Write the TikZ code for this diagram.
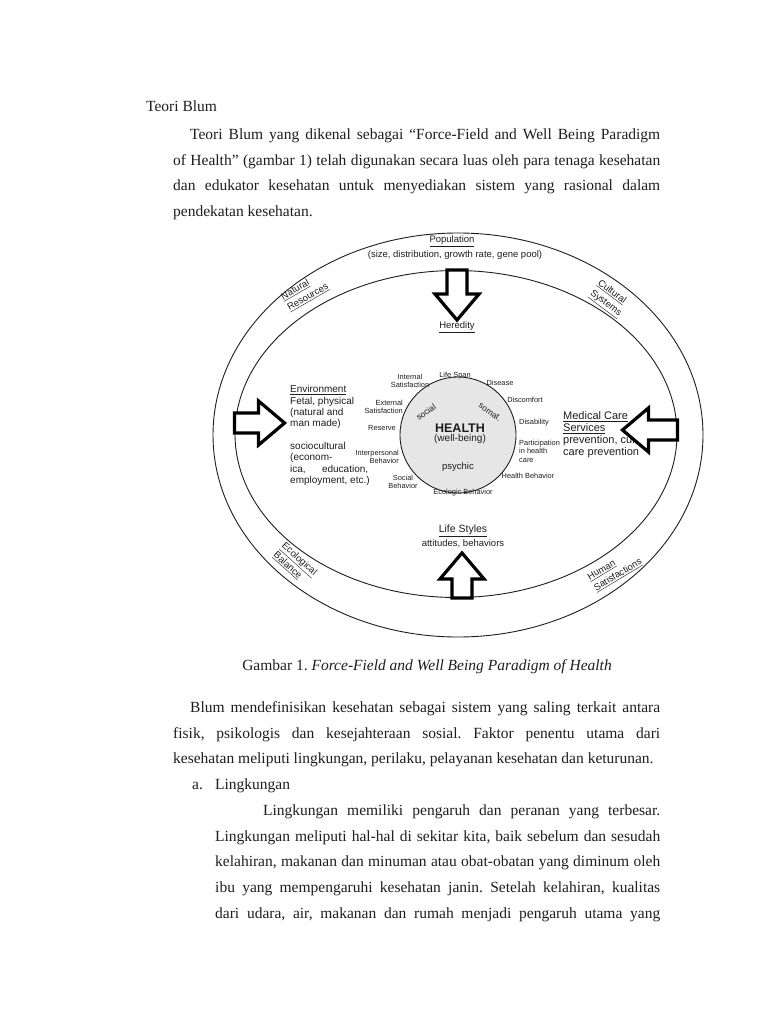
\documentclass[tikz,border=0pt]{standalone}
\usepackage{fontspec}
\setmainfont{Liberation Serif}
\setsansfont{Liberation Sans}
\usetikzlibrary{positioning,calc,shapes.geometric}
\definecolor{ink}{HTML}{1E1E1E}
\definecolor{healthgray}{HTML}{E6E6E6}
\frenchspacing
\newcommand{\bd}{\fontsize{15.5pt}{25.7pt}\selectfont}
\newcommand{\jl}[2]{\makebox[#1][s]{#2}}
\newcommand{\uln}[1]{\underline{#1}}
\tikzset{
  body/.style={font=\bd, text=ink, inner sep=0pt, align=left},
  lab/.style={font=\sffamily\fontsize{9.5pt}{11pt}\selectfont, text=ink, inner sep=0pt, align=center},
  side/.style={font=\sffamily\fontsize{10pt}{11.3pt}\selectfont, text=ink, inner sep=0pt, align=left},
  mini/.style={font=\sffamily\fontsize{7.4pt}{8.4pt}\selectfont, text=ink, inner sep=0pt, align=center},
  band/.style={font=\sffamily\fontsize{9.5pt}{12.5pt}\selectfont, text=ink, inner sep=0pt, align=left},
  ring/.style={ellipse, draw=ink, line width=0.9pt, inner sep=0pt},
  fatline/.style={draw=black, line width=3.2pt, fill=white, line join=miter},
  pics/fatarrow/.style={code={
    \path[fatline] (0,-10) -- (#1-26,-10) -- (#1-26,-22) -- (#1,0)
      -- (#1-26,22) -- (#1-26,10) -- (0,10) -- cycle;
  }},
}
\begin{document}
\begin{tikzpicture}[x=1pt, y=-1pt]
  \useasboundingbox[fill=white] (0,0) rectangle (768,1024);

  % page text above the figure
  \node[body, anchor=base west] (head) at (146,112) {Teori Blum};
  \node[body, anchor=north west] (para1) at (173,128.4)
    {\hspace*{17pt}\jl{470pt}{Teori Blum yang dikenal sebagai “Force-Field and Well Being Paradigm}\\
     \jl{487pt}{of Health” (gambar 1) telah digunakan secara luas oleh para tenaga kesehatan}\\
     \jl{487pt}{dan edukator kesehatan untuk menyediakan sistem yang rasional dalam}\\
     pendekatan kesehatan.};

  % the two rings and the health circle
  \node[ring, minimum width=490, minimum height=404] (outer) at (458,435) {};
  \node[ring, minimum width=442, minimum height=327] (inner) at (456,434) {};
  \node[circle, draw=ink, line width=0.9pt, fill=healthgray, minimum size=116] (health) at (458,435) {};
  \node[font=\sffamily\bfseries\fontsize{12.5pt}{14pt}\selectfont, text=ink, inner sep=0pt] (hl) at (460,428) {HEALTH};
  \node[lab, font=\sffamily\fontsize{10pt}{11pt}\selectfont, below=2pt of hl] (wb) {(well-being)};
  \node[mini, font=\sffamily\fontsize{8.5pt}{9pt}\selectfont, rotate=35] (soc) at (426,412) {social};
  \node[mini, font=\sffamily\fontsize{8.5pt}{9pt}\selectfont, rotate=-35] (som) at (490,412) {somat.};
  \node[lab] (psy) at (458,467) {psychic};

  % labels round the circle
  \node[mini] (intsat) at (410,381) {Internal\\Satisfaction};
  \node[mini] (life) at (455,376) {Life Span};
  \node[mini] (dis) at (500,383) {Disease};
  \node[mini] (disc) at (525,400) {Discomfort};
  \node[mini, align=right, anchor=east] (extsat) at (403,407) {External\\Satisfaction};
  \node[mini] (res) at (382,428) {Reserve};
  \node[mini] (disab) at (534,423) {Disability};
  \node[mini, align=left, anchor=west] (part) at (519,451) {Participation\\in health\\care};
  \node[mini, align=right, anchor=east] (inter) at (399,457) {Interpersonal\\Behavior};
  \node[mini] (hbeh) at (528,476) {Health Behavior};
  \node[mini] (sbeh) at (403,482) {Social\\Behavior};
  \node[mini] (ebeh) at (463,493) {Ecologic Behavior};

  % the four forces
  \node[lab] (pop) at (452,241) {\uln{Population}};
  \node[lab] (popd) at (455,255) {(size, distribution, growth rate, gene pool)};
  \node[lab] (her) at (457,327) {\uln{Heredity}};
  \node[side, anchor=north west] (env) at (290,385.5)
    {\uln{Environment}\\Fetal, physical\\(natural and\\man made)\\[11.3pt]
     sociocultural\\(econom-\\\jl{78pt}{ica, education,}\\employment, etc.)};
  \node[side, font=\sffamily\fontsize{11pt}{12pt}\selectfont, anchor=north west] (med) at (563,411.5)
    {\uln{Medical Care}\\\uln{Services}\\prevention, cure,\\care prevention};
  \node[lab, font=\sffamily\fontsize{10.5pt}{12pt}\selectfont] (ls) at (463,531) {\uln{Life Styles}};
  \node[lab] (lsd) at (463,544) {attitudes, behaviors};

  \pic[rotate=-90] at ([xshift=1pt]inner.north) {fatarrow=50};
  \pic[rotate=90] at ([xshift=6pt]inner.south) {fatarrow=45};
  \pic at ([yshift=11pt]inner.west) {fatarrow=50};
  \pic[rotate=180] at ([yshift=4pt]inner.east) {fatarrow=55};

  % labels in the band
  \node[band, rotate=30] (nat) at (305,292) {\uln{Natural}\\\uln{Resources}};
  \node[band, rotate=-37] (cul) at (609,299) {\uln{Cultural}\\\uln{Systems}};
  \node[band, rotate=-42] (eco) at (295,564) {\uln{Ecological}\\\uln{Balance}};
  \node[band, rotate=31] (hum) at (615,570) {\uln{Human}\\\uln{Satisfactions}};

  % page text below the figure
  \node[body, anchor=base] (cap) at (427,670)
    {Gambar 1. \textit{Force-Field and Well Being Paradigm of Health}};
  \node[body, anchor=north west] (para2) at (173,701.4)
    {\hspace*{17pt}\jl{470pt}{Blum mendefinisikan kesehatan sebagai sistem yang saling terkait antara}\\
     \jl{487pt}{fisik, psikologis dan kesejahteraan sosial. Faktor penentu utama dari}\\
     kesehatan meliputi lingkungan, perilaku, pelayanan kesehatan dan keturunan.};
  \node[body, anchor=base west] (itema) at (192,789) {a.};
  \node[body, anchor=base west] (itemt) at (215,789) {Lingkungan};
  \node[body, anchor=north west] (para3) at (215,804.4)
    {\hspace*{48pt}\jl{397pt}{Lingkungan memiliki pengaruh dan peranan yang terbesar.}\\
     \jl{445pt}{Lingkungan meliputi hal-hal di sekitar kita, baik sebelum dan sesudah}\\
     \jl{445pt}{kelahiran, makanan dan minuman atau obat-obatan yang diminum oleh}\\
     \jl{445pt}{ibu yang mempengaruhi kesehatan janin. Setelah kelahiran, kualitas}\\
     \jl{445pt}{dari udara, air, makanan dan rumah menjadi pengaruh utama yang}};
\end{tikzpicture}
\end{document}
